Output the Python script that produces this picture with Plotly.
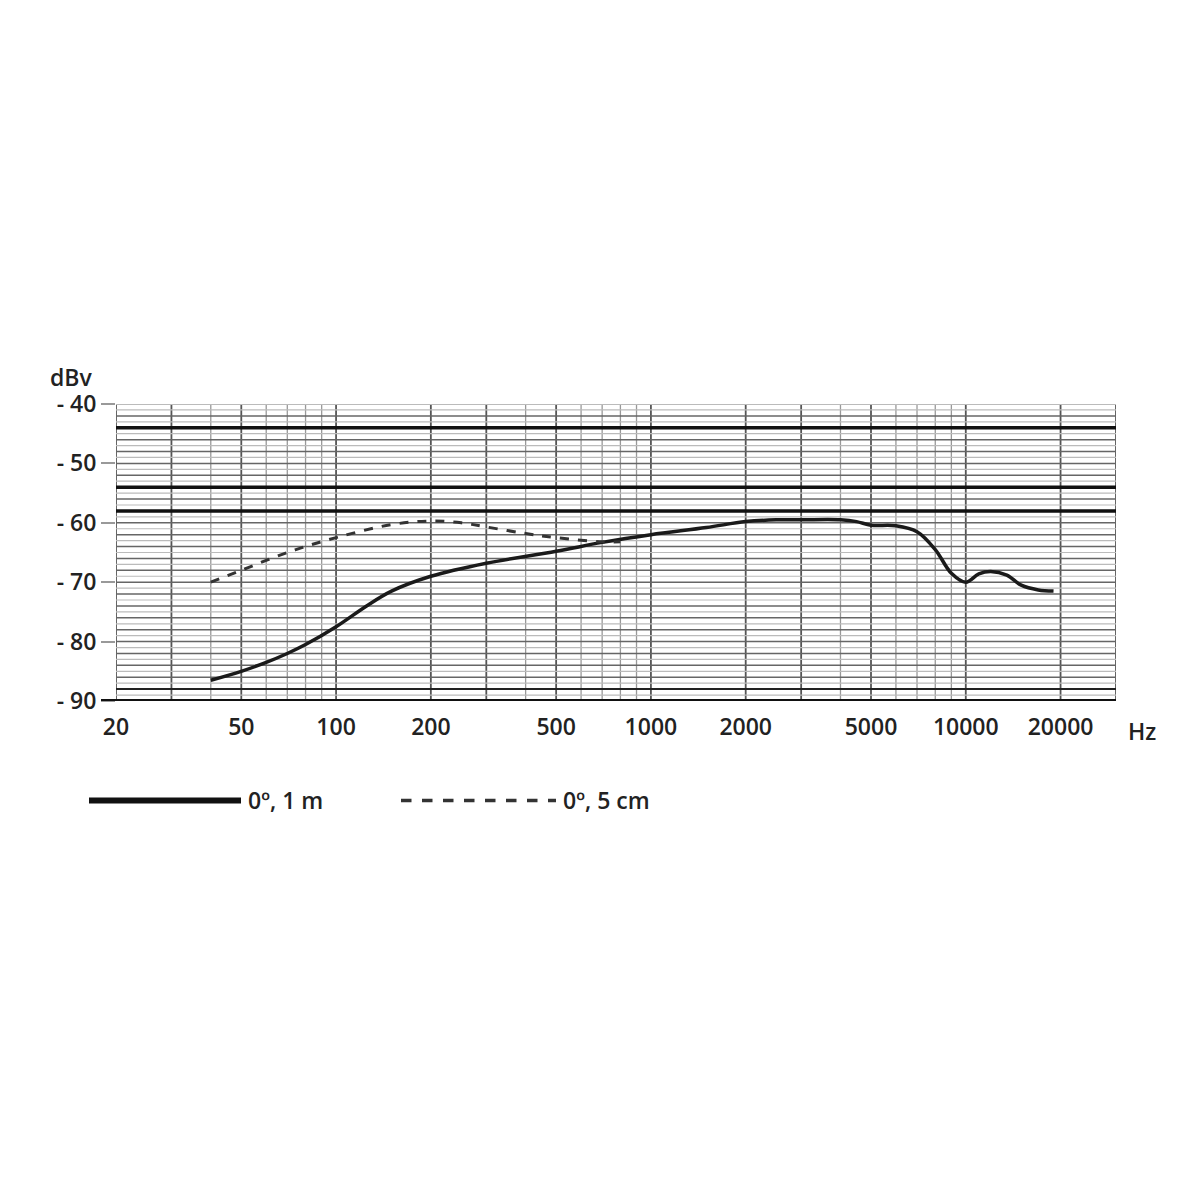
import plotly.graph_objects as go
import numpy as np

freq_1m = [40, 50, 60, 70, 80, 100, 125, 150, 200, 300, 500, 700, 1000, 1500, 2000, 2500, 3000, 4000, 4500, 5000, 6000, 7000, 8000, 9000, 10000, 11000, 12000, 13500, 15000, 17000, 19000]
db_1m = [-86.5, -85, -83.5, -82, -80.5, -77.5, -74, -71.5, -69, -66.8, -64.8, -63.3, -62, -60.8, -59.8, -59.5, -59.5, -59.5, -59.8, -60.4, -60.5, -61.5, -64.5, -68.5, -70, -68.6, -68.2, -68.8, -70.5, -71.3, -71.5]
freq_5cm = [40, 50, 70, 100, 150, 200, 250, 300, 400, 500, 700, 800]
db_5cm = [-70, -68, -65, -62.5, -60.3, -59.7, -60, -60.7, -61.8, -62.5, -63.2, -63.2]
x_ticks = [20, 50, 100, 200, 500, 1000, 2000, 5000, 10000, 20000]
y_ticks = [-40, -50, -60, -70, -80, -90]

X0, X1 = 20, 30000
shapes = []
# vertical grid
for d in [10, 100, 1000, 10000]:
    for m in range(1, 10):
        f = d * m
        if X0 <= f <= X1:
            dark = m in (1, 2, 3, 5)
            shapes.append(dict(type="line", xref="x", yref="paper", x0=f, x1=f, y0=0, y1=1, layer="below",
                               line=dict(color="#555" if dark else "#999", width=1.8 if dark else 1.3)))
# horizontal grid
for v in range(-89, -40):
    thick = v in (-44, -54, -58)
    dark = v % 2 == 0
    shapes.append(dict(type="line", xref="paper", yref="y", x0=0, x1=1, y0=v, y1=v, layer="below",
                       line=dict(color="#111" if thick else ("#666" if dark else "#bbb"),
                                 width=3.5 if thick else (1.5 if dark else 1.2))))
shapes.append(dict(type="line", xref="paper", yref="y", x0=-0.015, x1=1, y0=-90, y1=-90, line=dict(color="#111", width=4)))
shapes.append(dict(type="line", xref="paper", yref="y", x0=0, x1=1, y0=-88, y1=-88, line=dict(color="#222", width=2)))
shapes.append(dict(type="line", xref="paper", yref="y", x0=0, x1=1, y0=-40, y1=-40, line=dict(color="#bbb", width=2)))
# legend
shapes.append(dict(type="line", xref="paper", yref="paper", x0=-0.027, x1=0.125, y0=-0.335, y1=-0.335, line=dict(color="#111", width=6)))
shapes.append(dict(type="line", xref="paper", yref="paper", x0=0.285, x1=0.44, y0=-0.335, y1=-0.335, line=dict(color="#333", width=3.5, dash="dash")))

fig = go.Figure()
fig.add_trace(go.Scatter(x=freq_1m, y=db_1m, mode="lines", line=dict(color="#1a1a1a", width=3.5, shape="spline")))
fig.add_trace(go.Scatter(x=freq_5cm, y=db_5cm, mode="lines", line=dict(color="#333", width=3, dash="dash", shape="spline")))

font = dict(family="Open Sans", size=23, color="#222", weight=600)
fig.update_layout(
    width=1200, height=1200, showlegend=False, plot_bgcolor="white", paper_bgcolor="white",
    margin=dict(l=108, r=92, t=396, b=507), font=font, shapes=shapes,
    xaxis=dict(type="log", range=[np.log10(X0), np.log10(X1)], tickvals=x_ticks, ticktext=[str(t) for t in x_ticks],
               showgrid=False, zeroline=False, ticks="", ticklen=0, tickfont=font, ticklabelstandoff=10),
    yaxis=dict(range=[-90, -40], tickvals=y_ticks, ticktext=["- " + str(-t) for t in y_ticks], showgrid=False,
               zeroline=False, ticks="outside", ticklen=14, tickcolor="#999", tickwidth=2, tickfont=font),
    annotations=[
        dict(text="dBv", xref="paper", yref="paper", x=-0.045, y=1.03, xanchor="center", yanchor="bottom", showarrow=False, font=font),
        dict(text="Hz", xref="paper", yref="paper", x=1.01, y=-0.04, xanchor="left", yanchor="top", showarrow=False, font=font),
        dict(text="0º, 1 m", xref="paper", yref="paper", x=0.13, y=-0.335, xanchor="left", yanchor="middle", showarrow=False, font=font),
        dict(text="0º, 5 cm", xref="paper", yref="paper", x=0.445, y=-0.335, xanchor="left", yanchor="middle", showarrow=False, font=font),
    ],
)
fig.write_html("out.html")
